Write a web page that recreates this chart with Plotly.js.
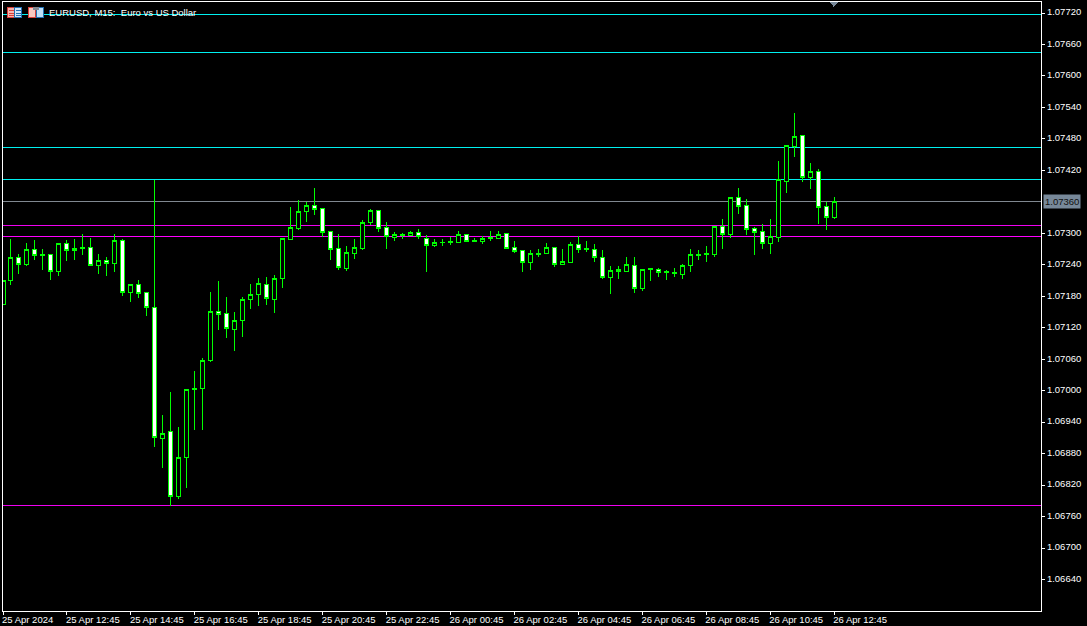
<!DOCTYPE html>
<html>
<head>
<meta charset="utf-8">
<script src="https://cdn.plot.ly/plotly-3.0.1.min.js"></script>
<style>html,body{margin:0;padding:0;background:#000;overflow:hidden}#chart{width:1087px;height:626px}
.shapelayer path,.boxlayer path{shape-rendering:crispEdges !important}</style>
</head>
<body>
<div id="chart"></div>
<script>
const opens = [1.07165,1.07210,1.07254,1.07240,1.07269,1.07258,1.07259,1.07228,1.07280,1.07267,1.07271,1.07273,1.07238,1.07248,1.07242,1.07286,1.07188,1.07202,1.07187,1.07159,
1.06909,1.06922,1.06798,1.06872,1.07003,1.07004,1.07058,1.07151,1.07147,1.07116,1.07133,1.07173,1.07183,1.07202,1.07173,1.07213,1.07289,1.07310,1.07342,1.07353,
1.07347,1.07303,1.07271,1.07232,1.07262,1.07272,1.07320,1.07343,1.07311,1.07293,1.07295,1.07295,1.07301,1.07290,1.07276,1.07282,1.07282,1.07283,1.07297,1.07285,
1.07285,1.07292,1.07291,1.07299,1.07273,1.07267,1.07245,1.07260,1.07262,1.07273,1.07241,1.07245,1.07278,1.07269,1.07269,1.07254,1.07215,1.07228,1.07228,1.07238,
1.07194,1.07231,1.07231,1.07225,1.07223,1.07222,1.07238,1.07258,1.07259,1.07259,1.07313,1.07297,1.07368,1.07353,1.07309,1.07303,1.07280,1.07293,1.07399,1.07466,
1.07486,1.07407,1.07417,1.07351,1.07331];
const highs = [1.07211,1.07289,1.07261,1.07282,1.07287,1.07271,1.07261,1.07280,1.07287,1.07289,1.07298,1.07292,1.07261,1.07254,1.07298,1.07289,1.07203,1.07211,1.07187,1.07402,
1.06954,1.06997,1.06931,1.07003,1.07037,1.07063,1.07188,1.07209,1.07178,1.07150,1.07178,1.07203,1.07215,1.07216,1.07220,1.07292,1.07351,1.07363,1.07359,1.07387,
1.07347,1.07303,1.07298,1.07276,1.07289,1.07325,1.07347,1.07343,1.07321,1.07302,1.07300,1.07304,1.07308,1.07296,1.07290,1.07290,1.07293,1.07304,1.07298,1.07292,
1.07294,1.07304,1.07304,1.07301,1.07285,1.07267,1.07268,1.07271,1.07281,1.07273,1.07271,1.07283,1.07294,1.07285,1.07280,1.07268,1.07237,1.07238,1.07254,1.07254,
1.07231,1.07233,1.07233,1.07231,1.07233,1.07241,1.07270,1.07268,1.07275,1.07313,1.07327,1.07370,1.07387,1.07366,1.07313,1.07317,1.07327,1.07437,1.07469,1.07530,
1.07488,1.07435,1.07423,1.07360,1.07370];
const lows = [1.07165,1.07201,1.07222,1.07237,1.07249,1.07230,1.07211,1.07218,1.07247,1.07249,1.07258,1.07238,1.07222,1.07218,1.07226,1.07180,1.07169,1.07176,1.07142,1.06893,
1.06853,1.06781,1.06794,1.06815,1.06925,1.06925,1.07055,1.07115,1.07100,1.07075,1.07102,1.07155,1.07161,1.07163,1.07148,1.07196,1.07287,1.07306,1.07321,1.07334,
1.07293,1.07250,1.07231,1.07228,1.07252,1.07268,1.07315,1.07302,1.07270,1.07285,1.07289,1.07294,1.07289,1.07226,1.07273,1.07275,1.07277,1.07283,1.07283,1.07283,
1.07279,1.07285,1.07289,1.07270,1.07262,1.07226,1.07231,1.07254,1.07262,1.07235,1.07241,1.07245,1.07262,1.07264,1.07245,1.07212,1.07184,1.07212,1.07226,1.07186,
1.07190,1.07209,1.07216,1.07211,1.07216,1.07212,1.07226,1.07250,1.07245,1.07254,1.07271,1.07292,1.07336,1.07296,1.07258,1.07271,1.07260,1.07283,1.07376,1.07446,
1.07397,1.07384,1.07317,1.07306,1.07327];
const closes = [1.07210,1.07254,1.07240,1.07269,1.07257,1.07259,1.07228,1.07280,1.07267,1.07271,1.07273,1.07238,1.07248,1.07242,1.07286,1.07188,1.07202,1.07186,1.07159,1.06911,
1.06919,1.06798,1.06873,1.07003,1.07004,1.07058,1.07151,1.07146,1.07118,1.07134,1.07174,1.07183,1.07204,1.07175,1.07214,1.07290,1.07311,1.07341,1.07353,1.07346,
1.07302,1.07270,1.07234,1.07263,1.07273,1.07320,1.07343,1.07310,1.07294,1.07297,1.07298,1.07301,1.07294,1.07276,1.07282,1.07283,1.07285,1.07297,1.07285,1.07286,
1.07290,1.07290,1.07298,1.07272,1.07266,1.07245,1.07262,1.07261,1.07273,1.07240,1.07246,1.07279,1.07270,1.07271,1.07253,1.07215,1.07229,1.07231,1.07240,1.07194,
1.07231,1.07232,1.07226,1.07228,1.07226,1.07238,1.07259,1.07260,1.07261,1.07313,1.07297,1.07369,1.07352,1.07308,1.07302,1.07280,1.07294,1.07402,1.07467,1.07484,
1.07407,1.07417,1.07350,1.07331,1.07360];

const priceTicks = [1.0772,1.0766,1.0760,1.0754,1.0748,1.0742,1.0730,1.0724,1.0718,1.0712,1.0706,1.0700,1.0694,1.0688,1.0682,1.0676,1.0670,1.0664];
const timeTickIdx = [0,8,16,24,32,40,48,56,64,72,80,88,96,104];
const timeTickLabels = ['25 Apr 2024','25 Apr 12:45','25 Apr 14:45','25 Apr 16:45','25 Apr 18:45','25 Apr 20:45','25 Apr 22:45','26 Apr 00:45','26 Apr 02:45','26 Apr 04:45','26 Apr 06:45','26 Apr 08:45','26 Apr 10:45','26 Apr 12:45'];
const levelPrices = [1.07718,1.07644,1.07463,1.07402,1.07360,1.07314,1.07294,1.06782];
const levelColors = ['#00f0f0','#00f0f0','#00f0f0','#00f0f0','#808890','#f000f0','#ff00ff','#f000f0'];
const bidPrice = 1.07360;
const chartTitle = 'EURUSD, M15:  Euro vs US Dollar';

const FONT = 'Liberation Sans, Arial, sans-serif';
const L = 2.5, R = 1041.5, T = 1.5, B = 611.5;
const px = v => (v - L) / (R - L);
const py = v => (B - v) / (B - T);
const box = (x0,y0,x1,y1,fill,line) => ({type:'rect',xref:'paper',yref:'paper',x0:px(x0),x1:px(x1),y0:py(y0),y1:py(y1),fillcolor:fill,line:{width:line?1:0,color:line||fill},layer:'above'});

const shapes = levelPrices.map((p,i)=>({type:'line',xref:'paper',yref:'y',x0:0,x1:1,y0:p,y1:p,line:{color:levelColors[i],width:1},layer:'below'}));
shapes.push({type:'path',xref:'paper',yref:'paper',layer:'above',fillcolor:'#778899',line:{width:0},
  path:`M ${px(830)} ${py(1.5)} L ${px(838.5)} ${py(1.5)} L ${px(834.2)} ${py(6.5)} Z`});
// toolbar-style icons beside the title
shapes.push(box(7.5,7.5,14.5,17.5,'#f4b6b0','#d8403a'), box(14.5,7.5,21.5,17.5,'#cfe6fa','#1f6fb2'));
[10,12.5,15].forEach(y=>{shapes.push(box(9,y,14,y+1,'#d8403a'));shapes.push(box(15.5,y,20.5,y+1,'#1f6fb2'));});
shapes.push(box(28.5,7.5,35.5,17.5,'#f8c8c0','#d8403a'), box(36.5,7.5,43,17.5,'#bfe0f8','#1f6fb2'));
shapes.push(box(32.5,6.5,38.5,10,'#808890'));

const trace = {
  type:'candlestick',
  x: opens.map((_,i)=>i),
  open:opens, high:highs, low:lows, close:closes,
  increasing:{line:{color:'#00ff00',width:1},fillcolor:'#000000'},
  decreasing:{line:{color:'#00ff00',width:1},fillcolor:'#ffffff'},
  whiskerwidth:0, hoverinfo:'skip', showlegend:false
};
const layout = {
  width:1087,height:626,
  margin:{l:L,r:1087-R,t:T,b:626-B,pad:0},
  paper_bgcolor:'#000',plot_bgcolor:'#000',
  showlegend:false,boxgap:0.5,boxgroupgap:0,
  xaxis:{type:'linear',range:[0,(R-L)/8],rangeslider:{visible:false},showgrid:false,zeroline:false,
    tickmode:'array',tickvals:timeTickIdx,ticktext:timeTickLabels,ticks:'outside',ticklen:3,tickwidth:1,tickcolor:'#fff',
    ticklabelposition:'outside right',ticklabelshift:-2,tickangle:0,
    tickfont:{family:FONT,size:9.5,color:'#fff'},showline:true,linecolor:'#fff',linewidth:1,mirror:true},
  yaxis:{side:'right',range:[1.06580,1.07741],showgrid:false,zeroline:false,
    tickmode:'array',tickvals:priceTicks,ticktext:priceTicks.map(v=>v.toFixed(5)),ticks:'outside',ticklen:3,tickwidth:1,tickcolor:'#fff',
    ticklabelshift:-1,
    tickfont:{family:FONT,size:9.5,color:'#fff'},showline:true,linecolor:'#fff',linewidth:1,mirror:true},
  shapes,
  annotations:[
    {xref:'paper',yref:'paper',x:px(47),y:py(12.5),xanchor:'left',yanchor:'middle',text:chartTitle,showarrow:false,font:{family:FONT,size:9.5,color:'#fff'}},
    {xref:'paper',yref:'y',x:px(1044),y:bidPrice,xanchor:'left',yanchor:'middle',text:bidPrice.toFixed(5),showarrow:false,bgcolor:'#778899',borderpad:1,font:{family:FONT,size:9.5,color:'#101010'}}
  ]
};
Plotly.newPlot('chart',[trace],layout,{displayModeBar:false,staticPlot:true});
</script>
</body>
</html>
